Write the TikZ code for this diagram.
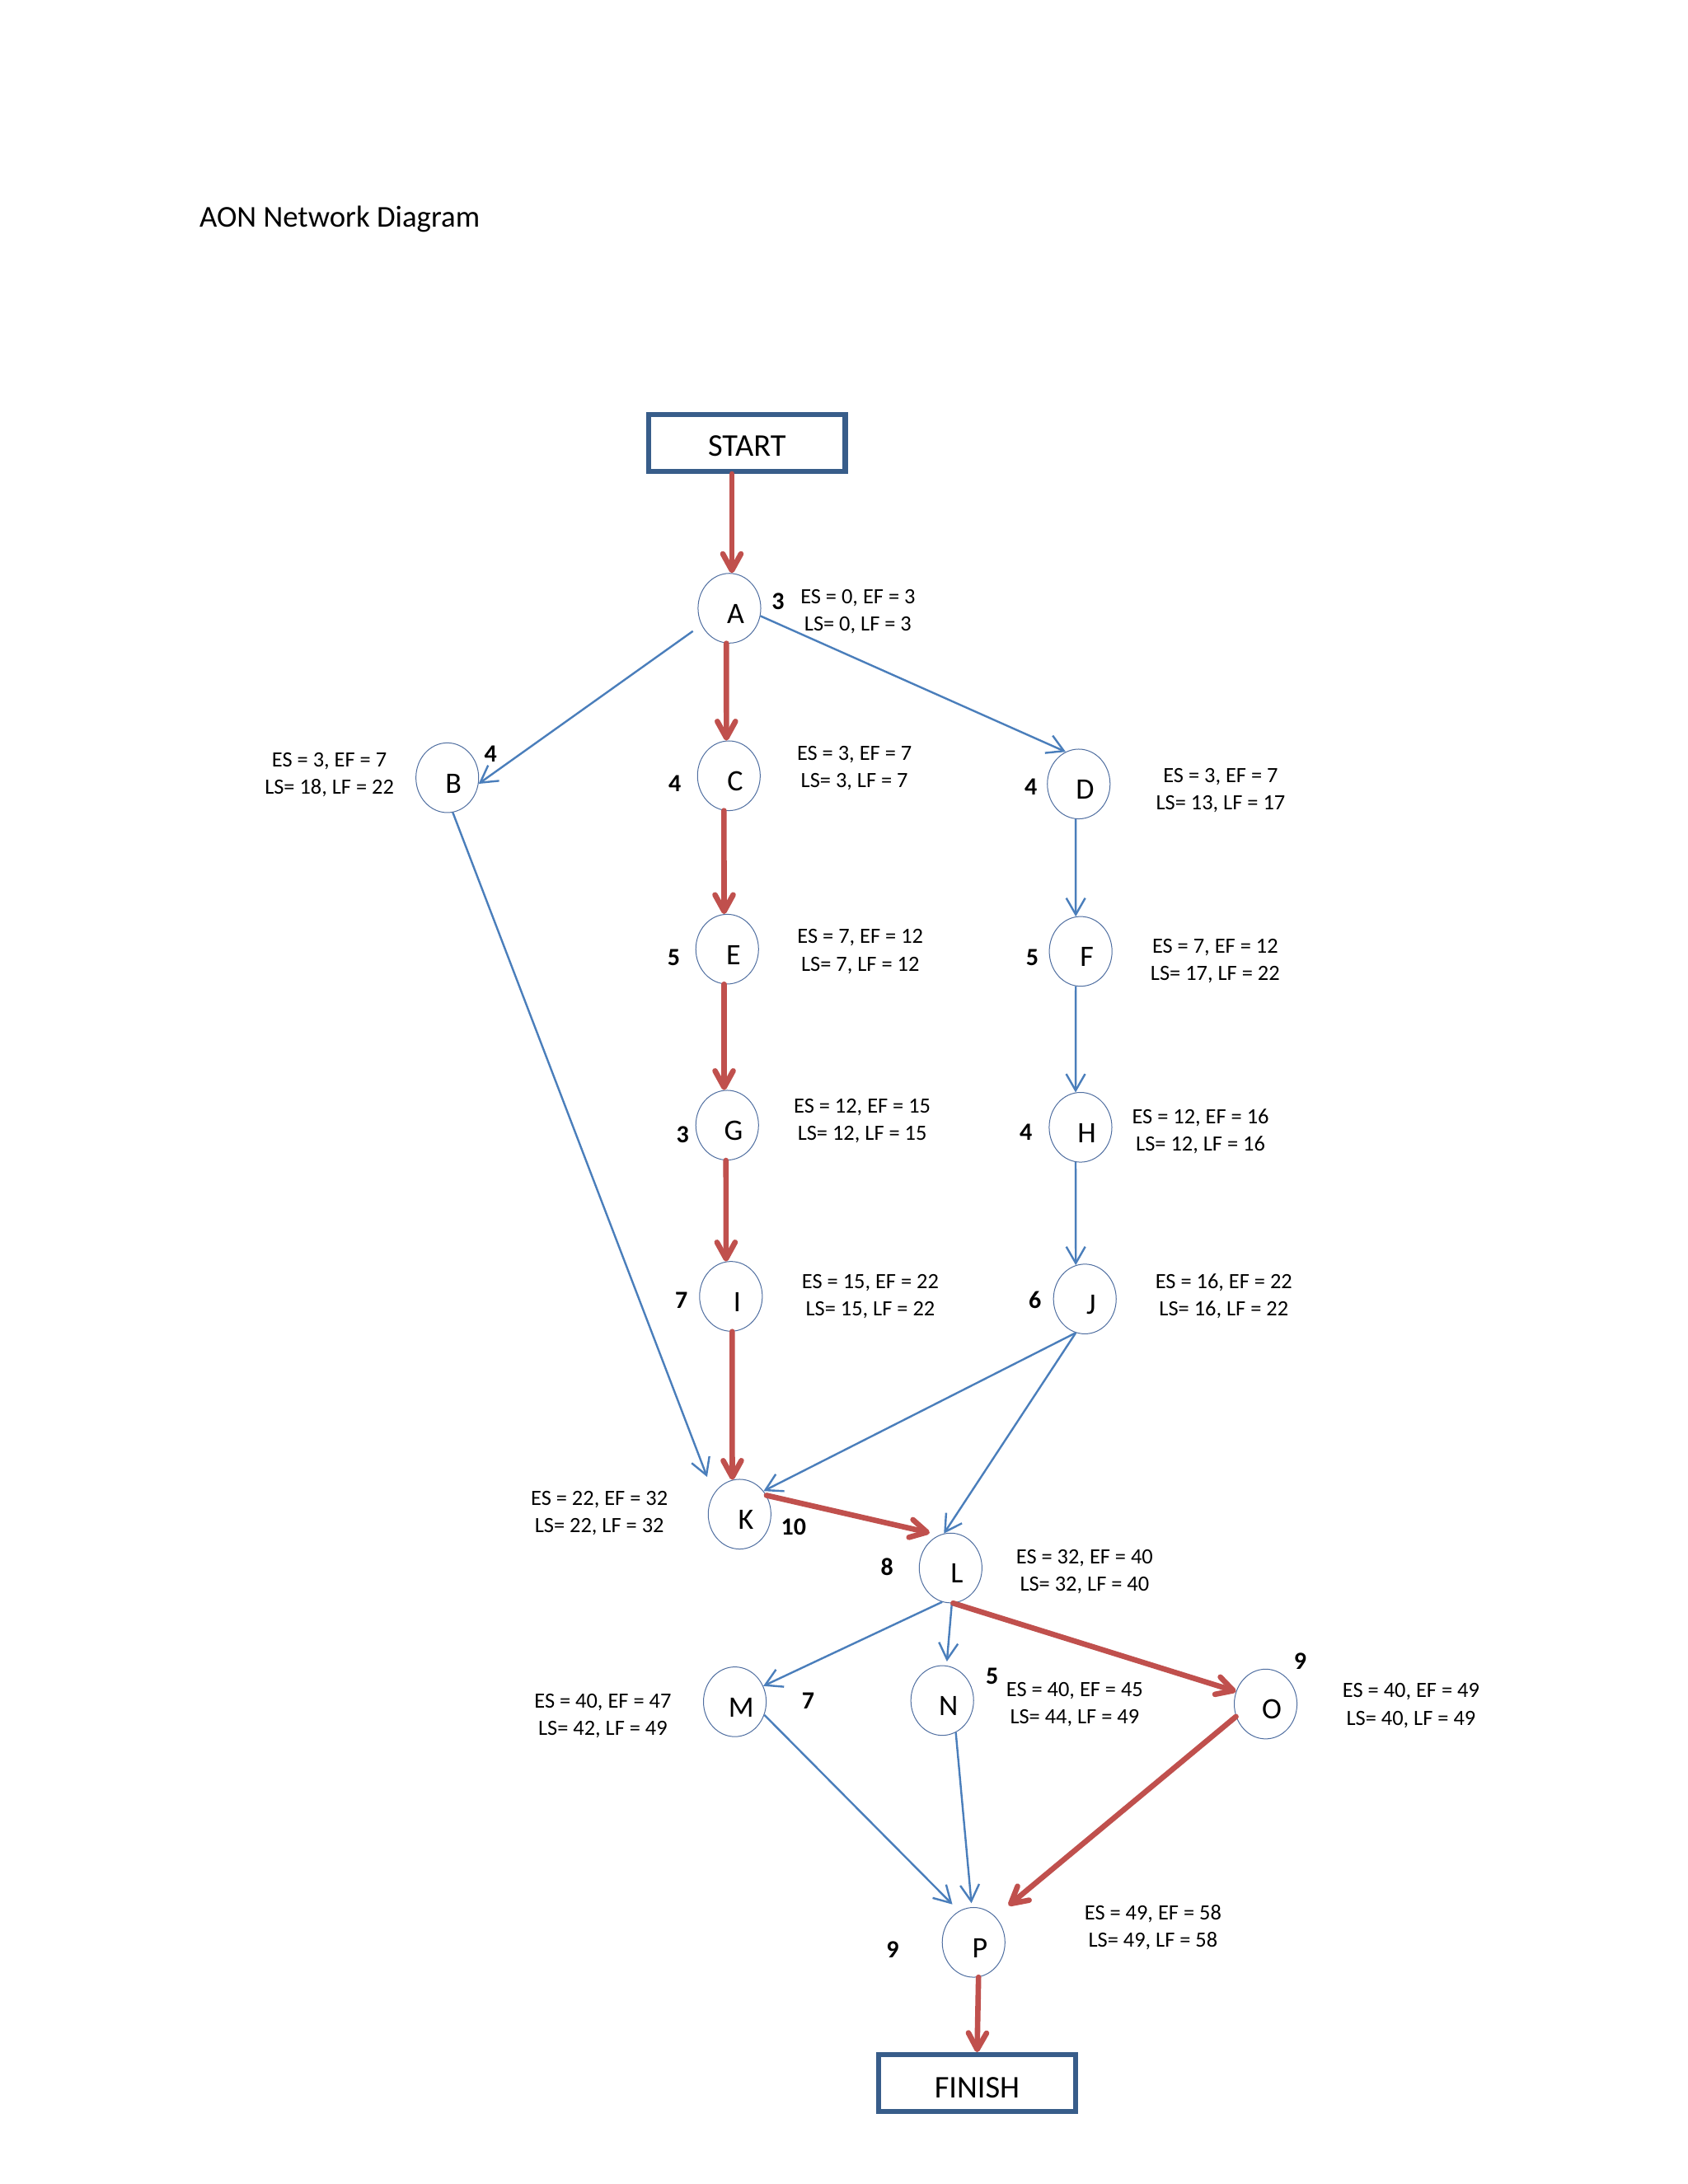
\documentclass[tikz,border=0pt]{standalone}
\usepackage{fontspec}
\setmainfont{Carlito}
\usetikzlibrary{arrows.meta,shapes.geometric}
\definecolor{critred}{RGB}{192,80,77}
\definecolor{lineblue}{RGB}{74,126,187}
\definecolor{boxblue}{RGB}{56,93,138}
\definecolor{ringblue}{RGB}{79,110,160}
\newcommand{\infolines}[2]{\begin{tabular}[t]{@{}c@{}}#1\\#2\end{tabular}}
\begin{document}
\begin{tikzpicture}[x=0.8456pt,y=-0.8456pt,
  act/.style={ellipse, draw=ringblue, line width=0.5pt, minimum width=38.05pt, minimum height=42.3pt, inner sep=0pt},
  lettertext/.style={font=\fontsize{18}{21}\selectfont, xshift=3.8pt, yshift=-3.4pt, inner sep=0pt},
  boxst/.style={rectangle, draw=boxblue, line width=3.2pt, minimum width=119.4pt, minimum height=34.5pt, inner sep=0pt},
  boxtext/.style={font=\fontsize{19.2}{22}\selectfont, inner sep=0pt},
  info/.style={font=\fontsize{13.2}{16.6}\selectfont, inner sep=0pt, anchor=base},
  num/.style={font=\fontsize{15}{17}\selectfont\bfseries, inner sep=0pt, anchor=base},
  crit/.style={draw=critred, line width=3.3pt, line cap=round, -{Straight Barb[length=10pt,width=11pt,round]}},
  norm/.style={draw=lineblue, line width=1.2pt, -{Straight Barb[length=10pt,width=11.5pt]}}]
\fill[white] (0,0) rectangle (1211,1567);
\useasboundingbox (0,0) rectangle (1211,1567);

\node[font=\fontsize{18.4}{22}\selectfont, anchor=base west, inner sep=0pt] (title) at (143,163) {AON Network Diagram};

% boxes
\node[boxst, label={[boxtext, yshift=-1.9pt]center:START}] (START) at (535.9,317.7) {};
\node[boxst, label={[boxtext, yshift=-2.7pt]center:FINISH}] (FINISH) at (701,1494.7) {};

% activities
\node[act, label={[lettertext]center:A}] (A) at (523.3,436.4) {};
\node[act, label={[lettertext]center:B}] (B) at (320.9,558) {};
\node[act, label={[lettertext]center:C}] (C) at (522.9,556.6) {};
\node[act, label={[lettertext]center:D}] (D) at (773.9,562.5) {};
\node[act, label={[lettertext]center:E}] (E) at (521.7,681) {};
\node[act, label={[lettertext]center:F}] (F) at (775.3,682.6) {};
\node[act, label={[lettertext]center:G}] (G) at (521.7,807.3) {};
\node[act, label={[lettertext]center:H}] (H) at (775.2,808.8) {};
\node[act, label={[lettertext]center:I}] (I) at (524.4,930.1) {};
\node[act, label={[lettertext]center:J}] (J) at (778.3,932) {};
\node[act, label={[lettertext]center:K}] (K) at (530.6,1086.4) {};
\node[act, label={[lettertext]center:L}] (L) at (682,1125) {};
\node[act, label={[lettertext]center:M}] (M) at (527.2,1221) {};
\node[act, label={[lettertext]center:N}] (N) at (676,1220.1) {};
\node[act, label={[lettertext]center:O}] (O) at (908,1222.6) {};
\node[act, label={[lettertext]center:P}] (P) at (698.5,1393.6) {};

% durations
\node[num] (dA) at (558.2,437.2) {3};
\node[num] (dB) at (351.9,546.7) {4};
\node[num] (dC) at (484.1,567.7) {4};
\node[num] (dD) at (739.6,570.6) {4};
\node[num] (dE) at (483.4,693) {5};
\node[num] (dF) at (740.6,693) {5};
\node[num] (dG) at (489.8,819.6) {3};
\node[num] (dH) at (736,817.8) {4};
\node[num] (dI) at (488.8,938.5) {7};
\node[num] (dJ) at (742.6,938.5) {6};
\node[num] (dK) at (569.3,1101.4) {10};
\node[num] (dL) at (636.4,1130.4) {8};
\node[num] (dM) at (579.7,1226) {7};
\node[num] (dN) at (711.8,1208.2) {5};
\node[num] (dO) at (932.8,1197.7) {9};
\node[num] (dP) at (640.4,1404.8) {9};

% schedule info
\node[info] (iA) at (615.5,433.2) {\infolines{ES = 0, EF = 3}{LS= 0, LF = 3}};
\node[info] (iB) at (236.3,550.1) {\infolines{ES = 3, EF = 7}{LS= 18, LF = 22}};
\node[info] (iC) at (613,545.6) {\infolines{ES = 3, EF = 7}{LS= 3, LF = 7}};
\node[info] (iD) at (875.7,561.2) {\infolines{ES = 3, EF = 7}{LS= 13, LF = 17}};
\node[info] (iE) at (617.2,677) {\infolines{ES = 7, EF = 12}{LS= 7, LF = 12}};
\node[info] (iF) at (871.8,684) {\infolines{ES = 7, EF = 12}{LS= 17, LF = 22}};
\node[info] (iG) at (618.6,798.5) {\infolines{ES = 12, EF = 15}{LS= 12, LF = 15}};
\node[info] (iH) at (861.3,806) {\infolines{ES = 12, EF = 16}{LS= 12, LF = 16}};
\node[info] (iI) at (624.4,924.5) {\infolines{ES = 15, EF = 22}{LS= 15, LF = 22}};
\node[info] (iJ) at (878,924.5) {\infolines{ES = 16, EF = 22}{LS= 16, LF = 22}};
\node[info] (iK) at (430,1080) {\infolines{ES = 22, EF = 32}{LS= 22, LF = 32}};
\node[info] (iL) at (778.1,1122) {\infolines{ES = 32, EF = 40}{LS= 32, LF = 40}};
\node[info] (iM) at (432.5,1225.5) {\infolines{ES = 40, EF = 47}{LS= 42, LF = 49}};
\node[info] (iN) at (771,1217.1) {\infolines{ES = 40, EF = 45}{LS= 44, LF = 49}};
\node[info] (iO) at (1012.3,1218.1) {\infolines{ES = 40, EF = 49}{LS= 40, LF = 49}};
\node[info] (iP) at (827.2,1377.6) {\infolines{ES = 49, EF = 58}{LS= 49, LF = 58}};

% connectors
\draw[crit] (START.south -| A.86) -- (A.86);
\draw[crit] (A.-95) -- (C.94);
\draw[norm, shorten <=6.4pt] (A.211) -- (B.-11);
\draw[norm] (A.-14) -- (D.112);
\draw[norm, shorten >=11pt] (B.-81) -- (K.142);
\draw[crit] (C.-98) -- (E.95);
\draw[crit] (E.-95) -- (G.95);
\draw[crit] (G.-92) -- (I.98);
\draw[crit] (I.-88) -- (K.102);
\draw[norm] (D.-95) -- (F.98);
\draw[norm] (F.-98) -- (H.98);
\draw[norm] (H.-98) -- (J.105);
\draw[norm] (J.-105) -- (K.44);
\draw[norm] (J.-105) -- (L.101);
\draw[crit, shorten >=6pt] (K.35) -- (L.109);
\draw[norm] (L.-104) -- (M.29);
\draw[norm, shorten >=2.5pt] (L.-88) -- (N.83);
\draw[crit] (L.-86) -- (O.157);
\draw[norm, shorten >=5.7pt] (M.-24) -- (P.115);
\draw[norm, shorten >=2.4pt] (N.-67) -- (P.93);
\draw[crit, shorten >=10.5pt] (O.-157) -- (P.50);
\draw[crit] (P.-82) -- (FINISH.north);
\end{tikzpicture}
\end{document}
